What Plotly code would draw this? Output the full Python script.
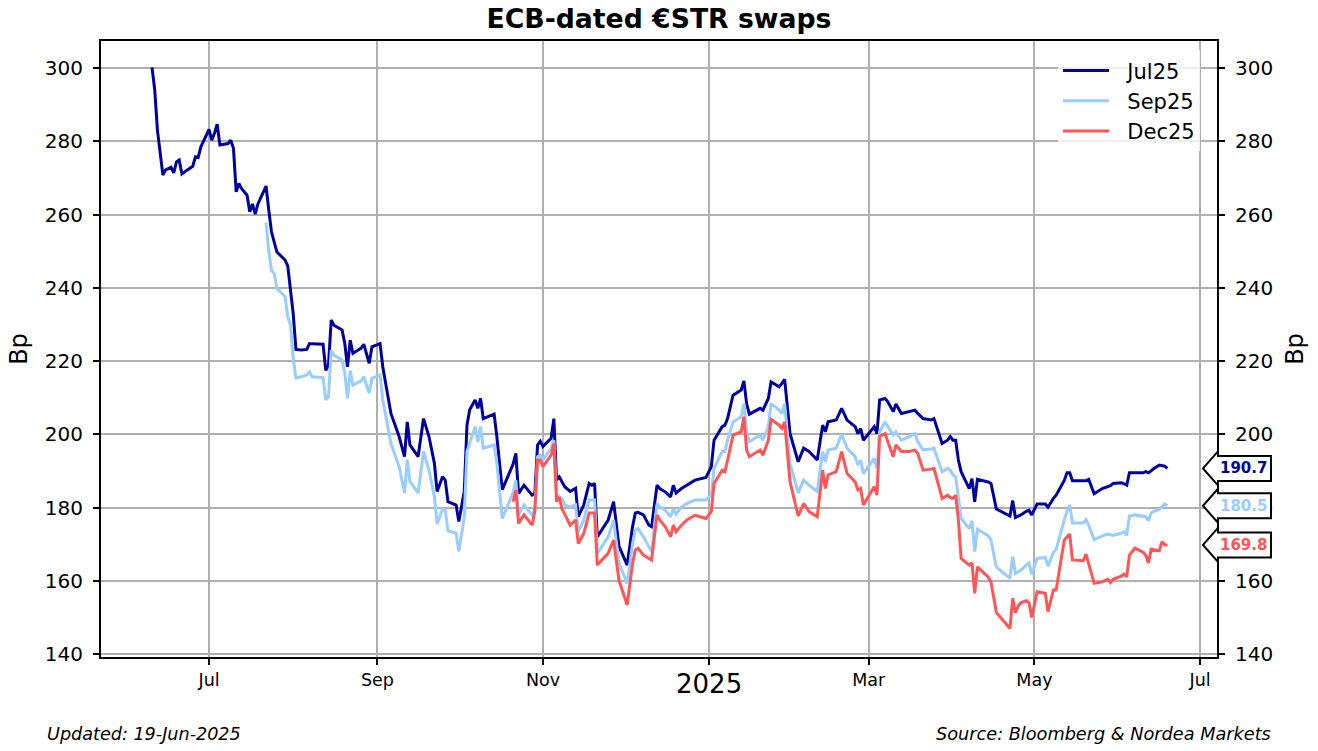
import plotly.graph_objects as go

# ---------------- data ----------------
dates = [
    # Jun 2024
    "2024-06-10", "2024-06-11", "2024-06-12", "2024-06-14", "2024-06-15", "2024-06-17", "2024-06-18", "2024-06-19",
    "2024-06-20", "2024-06-21", "2024-06-23", "2024-06-25", "2024-06-26", "2024-06-27", "2024-06-28", "2024-06-30",
    # Jul (a)
    "2024-07-01", "2024-07-02", "2024-07-03", "2024-07-04", "2024-07-05", "2024-07-08", "2024-07-09", "2024-07-10",
    "2024-07-11", "2024-07-12", "2024-07-13", "2024-07-15", "2024-07-16", "2024-07-17", "2024-07-18", "2024-07-19",
    # Jul (b)
    "2024-07-22", "2024-07-23", "2024-07-24", "2024-07-25", "2024-07-26", "2024-07-29", "2024-07-30", "2024-07-31",
    # Aug
    "2024-08-01", "2024-08-02", "2024-08-04", "2024-08-06", "2024-08-07", "2024-08-08", "2024-08-12", "2024-08-13",
    "2024-08-14", "2024-08-15", "2024-08-16", "2024-08-19", "2024-08-20", "2024-08-21", "2024-08-22", "2024-08-23",
    "2024-08-26", "2024-08-27", "2024-08-29", "2024-08-30",
    # Sep
    "2024-09-02", "2024-09-03", "2024-09-06", "2024-09-09", "2024-09-11", "2024-09-12", "2024-09-13", "2024-09-16",
    "2024-09-18", "2024-09-20", "2024-09-22", "2024-09-23", "2024-09-25", "2024-09-26", "2024-09-27", "2024-09-30",
    # Oct (a)
    "2024-10-01", "2024-10-03", "2024-10-04", "2024-10-05", "2024-10-07", "2024-10-08", "2024-10-09", "2024-10-10",
    "2024-10-14", "2024-10-15", "2024-10-17",
    # Oct (b)
    "2024-10-21", "2024-10-22", "2024-10-23", "2024-10-25", "2024-10-28", "2024-10-29", "2024-10-30", "2024-10-31",
    # Nov
    "2024-11-01", "2024-11-04", "2024-11-05", "2024-11-06", "2024-11-07", "2024-11-08", "2024-11-09", "2024-11-11",
    "2024-11-13", "2024-11-14", "2024-11-16", "2024-11-18", "2024-11-19", "2024-11-20", "2024-11-21", "2024-11-25",
    "2024-11-27", "2024-11-29",
    # Dec
    "2024-12-02", "2024-12-04", "2024-12-05", "2024-12-06", "2024-12-08", "2024-12-10", "2024-12-11", "2024-12-13",
    "2024-12-14", "2024-12-16", "2024-12-18", "2024-12-19", "2024-12-20", "2024-12-22", "2024-12-24", "2024-12-27",
    "2024-12-31",
    # Jan 2025
    "2025-01-02", "2025-01-03", "2025-01-06", "2025-01-07", "2025-01-08", "2025-01-10", "2025-01-13", "2025-01-14",
    "2025-01-15", "2025-01-16", "2025-01-20", "2025-01-21", "2025-01-23", "2025-01-24", "2025-01-27", "2025-01-28",
    "2025-01-29", "2025-01-31",
    # Feb
    "2025-02-03", "2025-02-05", "2025-02-07", "2025-02-10", "2025-02-12", "2025-02-13", "2025-02-14", "2025-02-17",
    "2025-02-19", "2025-02-21", "2025-02-24", "2025-02-25", "2025-02-26", "2025-02-27",
    # Mar
    "2025-03-03", "2025-03-04", "2025-03-05", "2025-03-07", "2025-03-08", "2025-03-10", "2025-03-11", "2025-03-13",
    "2025-03-16", "2025-03-18", "2025-03-19", "2025-03-21", "2025-03-24", "2025-03-25", "2025-03-28", "2025-03-30",
    "2025-03-31",
    # Apr
    "2025-04-01", "2025-04-02", "2025-04-03", "2025-04-04", "2025-04-07", "2025-04-08", "2025-04-09", "2025-04-10",
    "2025-04-14", "2025-04-15", "2025-04-17", "2025-04-22", "2025-04-23", "2025-04-24", "2025-04-25", "2025-04-26",
    "2025-04-28", "2025-04-29", "2025-04-30",
    # May
    "2025-05-02", "2025-05-05", "2025-05-06", "2025-05-08", "2025-05-09", "2025-05-12", "2025-05-13", "2025-05-14",
    "2025-05-15", "2025-05-19", "2025-05-20", "2025-05-21", "2025-05-23", "2025-05-26", "2025-05-28", "2025-05-29",
    "2025-05-30",
    # Jun 2025
    "2025-06-02", "2025-06-03", "2025-06-04", "2025-06-05", "2025-06-07", "2025-06-10", "2025-06-11", "2025-06-12",
    "2025-06-13", "2025-06-14", "2025-06-16", "2025-06-17", "2025-06-18", "2025-06-19",
]

jul25 = [
    # Jun 2024
    300.2, 294.0, 283.0, 270.8, 272.2, 272.9, 271.4, 274.4, 274.9, 271.1, 272.2, 273.2, 275.8, 275.6, 278.5, 281.4,
    # Jul (a)
    283.3, 280.3, 282.2, 284.7, 279.0, 279.4, 280.3, 278.1, 266.2, 268.5, 267.1, 265.3, 260.8, 262.9, 260.1, 262.9,
    # Jul (b)
    267.8, 261.2, 255.3, 252.5, 249.8, 247.6, 246.0, 239.4,
    # Aug
    233.0, 223.2, 223.0, 223.2, 224.8, 224.7, 224.6, 217.5, 218.9, 231.2, 229.8, 228.5, 224.8, 218.4, 225.7, 222.1,
    223.5, 224.6, 219.4, 223.9,
    # Sep
    224.8, 218.4, 205.7, 199.4, 193.9, 203.4, 197.1, 193.9, 204.3, 199.4, 192.1, 184.4, 188.4, 187.5, 181.6, 180.7,
    # Oct (a)
    176.2, 184.4, 202.5, 206.7, 209.4, 207.1, 209.8, 204.3, 205.5, 199.4, 184.9,
    # Oct (b)
    191.9, 194.8, 183.8, 186.1, 183.4, 183.8, 197.1, 198.1,
    # Nov
    196.7, 198.9, 204.3, 187.5, 188.4, 187.2, 185.7, 184.4, 185.3, 177.5, 180.7, 186.6, 186.1, 186.6, 172.0, 176.6,
    181.6, 169.4,
    # Dec
    164.3, 174.8, 178.5, 178.7, 178.0, 175.2, 174.8, 186.1, 185.2, 184.3, 182.9, 186.1, 184.0, 185.2, 186.1, 187.5,
    188.2,
    # Jan 2025
    191.2, 198.4, 202.1, 202.5, 204.4, 210.7, 212.1, 214.6, 208.4, 205.5, 207.1, 206.6, 209.8, 214.3, 213.0, 213.9,
    215.0, 200.2,
    # Feb
    192.5, 196.2, 195.3, 193.0, 202.5, 200.7, 203.4, 203.9, 207.1, 203.9, 202.1, 200.2, 201.6, 198.4,
    # Mar
    202.1, 200.2, 209.4, 209.8, 208.9, 206.2, 208.3, 205.7, 206.2, 206.6, 205.7, 204.3, 203.9, 204.3, 197.5, 198.4,
    199.4,
    # Apr
    198.4, 198.4, 193.0, 189.8, 185.2, 187.9, 181.6, 187.7, 187.0, 186.6, 179.6, 177.7, 181.9, 177.3, 177.6, 178.0,
    179.0, 179.3, 178.0,
    # May
    181.0, 181.0, 180.1, 182.5, 183.4, 187.4, 189.5, 189.5, 187.3, 187.3, 187.3, 187.7, 183.8, 185.2, 185.7, 186.0,
    186.6,
    # Jun 2025
    186.8, 186.5, 186.1, 189.5, 189.5, 189.5, 189.8, 189.5, 190.0, 190.7, 191.6, 191.4, 191.3, 190.7,
]

sep25_start = "2024-07-22"
sep25 = [
    # Jul (b)
    257.8, 250.0, 244.8, 243.9, 239.8, 237.6, 232.1, 229.8,
    # Aug
    220.7, 215.4, 215.7, 216.2, 217.1, 215.7, 215.5, 209.4, 210.3, 223.0, 221.6, 220.3, 216.6, 209.8, 217.4, 213.4,
    214.6, 215.7, 211.2, 215.3,
    # Sep
    216.2, 209.4, 197.5, 191.2, 184.0, 193.0, 187.1, 184.0, 195.3, 190.2, 183.0, 175.5, 179.6, 179.3, 173.7, 173.0,
    # Oct (a)
    168.0, 177.5, 195.3, 197.5, 202.1, 198.0, 202.1, 196.2, 197.1, 192.1, 177.0,
    # Oct (b)
    184.1, 187.5, 178.0, 180.7, 178.0, 179.6, 193.9, 194.3,
    # Nov
    193.0, 196.2, 198.4, 183.8, 183.0, 182.5, 180.7, 180.2, 180.7, 173.4, 176.6, 182.1, 182.1, 182.1, 167.5, 172.0,
    176.6, 164.8,
    # Dec
    159.3, 170.2, 173.8, 174.3, 172.0, 169.3, 167.9, 181.1, 180.2, 179.3, 177.5, 179.6, 178.2, 180.2, 181.1, 182.1,
    182.1,
    # Jan 2025
    183.4, 190.7, 195.3, 195.3, 198.4, 203.4, 204.8, 208.4, 200.7, 198.0, 199.8, 198.4, 202.1, 208.4, 206.6, 205.7,
    208.4, 192.0,
    # Feb
    184.0, 187.5, 186.1, 184.4, 195.3, 192.5, 195.7, 196.2, 200.1, 196.2, 193.9, 191.6, 193.0, 189.3,
    # Mar
    193.4, 190.7, 200.7, 203.4, 202.1, 199.8, 200.7, 198.4, 199.4, 200.2, 198.0, 195.7, 196.0, 196.2, 189.8, 190.7,
    190.2,
    # Apr
    189.0, 188.4, 182.0, 177.0, 174.3, 176.4, 168.0, 174.1, 172.3, 171.1, 163.7, 160.7, 166.6, 162.0, 162.5, 162.9,
    164.3, 164.8, 161.8,
    # May
    166.1, 166.4, 164.0, 167.7, 168.6, 176.6, 179.0, 180.7, 175.8, 175.8, 176.7, 175.2, 171.3, 172.2, 172.8, 172.6,
    172.4,
    # Jun 2025
    173.0, 173.4, 172.4, 177.7, 178.0, 177.7, 177.5, 176.4, 178.5, 179.0, 179.5, 180.2, 181.0, 180.5,
]

dec25_start = "2024-10-21"
dec25 = [
    # Oct (b)
    181.6, 184.8, 175.7, 178.0, 175.2, 179.1, 193.0, 193.0,
    # Nov
    191.2, 194.3, 197.5, 181.6, 182.9, 179.6, 178.2, 175.2, 176.6, 170.2, 172.9, 178.5, 178.5, 178.5, 164.3, 167.5,
    171.1, 160.1,
    # Dec
    153.4, 164.8, 168.4, 168.9, 167.0, 166.0, 165.7, 178.0, 176.6, 174.8, 172.0, 175.2, 173.4, 175.2, 176.6, 177.9,
    177.0,
    # Jan 2025
    178.9, 186.6, 190.2, 189.8, 193.0, 199.8, 200.7, 204.8, 195.7, 193.9, 195.7, 194.3, 198.4, 204.1, 202.5, 201.6,
    203.4, 187.0,
    # Feb
    177.7, 181.1, 178.9, 177.5, 190.2, 185.2, 188.9, 189.8, 195.3, 189.3, 187.0, 184.8, 185.2, 180.7,
    # Mar
    185.7, 183.4, 199.4, 200.2, 198.0, 193.9, 197.1, 195.3, 195.3, 195.7, 194.8, 190.2, 190.5, 190.7, 182.5, 183.4,
    182.7,
    # Apr
    182.5, 183.4, 176.6, 166.1, 164.3, 164.9, 156.6, 163.8, 161.0, 159.7, 151.3, 147.0, 155.2, 151.3, 153.1, 154.0,
    154.6, 154.0, 150.0,
    # May
    157.0, 156.6, 151.6, 157.5, 157.5, 171.1, 172.0, 172.8, 165.7, 165.5, 167.3, 164.8, 159.3, 159.7, 160.4, 159.5,
    160.4,
    # Jun 2025
    161.3, 161.8, 161.1, 167.0, 168.9, 167.8, 167.0, 164.9, 168.6, 168.4, 168.2, 170.7, 169.8, 169.8,
]

series_names = ["Jul25", "Sep25", "Dec25"]
series_colors = ["#0000A0", "#99CCFF", "#FF5555"]

x_tickvals = ["2024-07-01", "2024-09-01", "2024-11-01", "2025-01-01", "2025-03-01", "2025-05-01", "2025-07-01"]
x_ticktext = ["Jul", "Sep", "Nov", "", "Mar", "May", "Jul"]
year_label = "2025"
year_label_date = "2025-01-01"
y_tickvals = [140, 160, 180, 200, 220, 240, 260, 280, 300]

# ---------------- build ----------------
assert len(dates) == len(jul25), (len(dates), len(jul25))
i_sep = dates.index(sep25_start)
i_dec = dates.index(dec25_start)
assert len(dates) - i_sep == len(sep25), (len(dates) - i_sep, len(sep25))
assert len(dates) - i_dec == len(dec25), (len(dates) - i_dec, len(dec25))

series_x = [dates, dates[i_sep:], dates[i_dec:]]
series_y = [jul25, sep25, dec25]

FONT = "DejaVu Sans"
NBSP = "\u00a0"
fig = go.Figure()
for name, col, xs, ys in zip(series_names, series_colors, series_x, series_y):
    fig.add_trace(go.Scatter(x=xs, y=ys, mode="lines", name=NBSP * 2 + name,
                             line=dict(color=col, width=3)))

# invisible trace to carry the right-hand axis
fig.add_trace(go.Scatter(x=[dates[-1]], y=[jul25[-1]], yaxis="y2", mode="lines",
                         showlegend=False, hoverinfo="skip", opacity=0))

y_range = [139.2, 307.4]
x_range = ["2024-05-22 05:00", "2025-07-07 06:00"]

axis_common = dict(showline=True, linecolor="black", linewidth=2, ticks="outside",
                   tickcolor="black", ticklen=6, tickwidth=1.5)

fig.update_layout(
    width=1318, height=751,
    margin=dict(l=101, r=101, t=41, b=94),
    paper_bgcolor="white", plot_bgcolor="white",
    font=dict(family=FONT, color="black"),
    title=dict(text="<b>ECB-dated €STR swaps</b>", x=0.5, xanchor="center",
               y=1 - 19 / 751, yanchor="middle", yref="container",
               font=dict(size=26.7, family=FONT, color="black")),
    xaxis=dict(range=x_range, type="date", tickvals=x_tickvals, ticktext=x_ticktext,
               tickfont=dict(size=17.5), showgrid=True, gridcolor="#b0b0b0", gridwidth=1.6,
               mirror=True, zeroline=False, **axis_common),
    yaxis=dict(range=y_range, tickvals=y_tickvals, tickfont=dict(size=20), ticklabelstandoff=6,
               showgrid=True, gridcolor="#b0b0b0", gridwidth=1.6, mirror=True, zeroline=False,
               title=dict(text="Bp", font=dict(size=24), standoff=10), **axis_common),
    yaxis2=dict(range=y_range, tickvals=y_tickvals, tickfont=dict(size=20), overlaying="y",
                side="right", showgrid=False, zeroline=False, ticklabelstandoff=6,
                title=dict(text="Bp", font=dict(size=24), standoff=14), **axis_common),
    legend=dict(x=(1058 - 101) / 1116, y=0.985, xanchor="left", yanchor="top",
                bgcolor="rgba(255,255,255,0.8)", font=dict(size=21, family=FONT),
                borderwidth=0, itemwidth=46, tracegroupgap=2),
    showlegend=True,
)

# year label under the Jan tick
fig.add_annotation(x=year_label_date, xref="x", y=-0.044, yref="paper", text=year_label,
                   showarrow=False, font=dict(size=26, family=FONT), yanchor="middle")

# last-value callouts on the right axis
arrow_path = "M -14 0 L 1 17 L 1 12.5 L 54 12.5 L 54 -12.5 L 1 -12.5 L 1 -17 Z"
for name, col, ys in zip(series_names, series_colors, series_y):
    last = ys[-1]
    fig.add_shape(type="path", xref="paper", yref="y", xsizemode="pixel", ysizemode="pixel",
                  xanchor=1, yanchor=last, path=arrow_path,
                  fillcolor="white", line=dict(color="black", width=2), layer="above")
    fig.add_annotation(x=(1243 - 101) / 1116, xref="paper", y=last, yref="y",
                       text=f"<b>{last:.1f}</b>", showarrow=False,
                       font=dict(size=15, color=col, family=FONT), xanchor="center", yanchor="middle")

# footer
fig.add_annotation(x=-0.0502, xref="paper", y=-0.125, yref="paper", text="<i>Updated: 19-Jun-2025</i>",
                   showarrow=False, xanchor="left", yanchor="middle", font=dict(size=17.6, family=FONT))
fig.add_annotation(x=1.0502, xref="paper", y=-0.125, yref="paper",
                   text="<i>Source: Bloomberg &amp; Nordea Markets</i>",
                   showarrow=False, xanchor="right", yanchor="middle", font=dict(size=17.7, family=FONT))

fig.write_html("out.html")
